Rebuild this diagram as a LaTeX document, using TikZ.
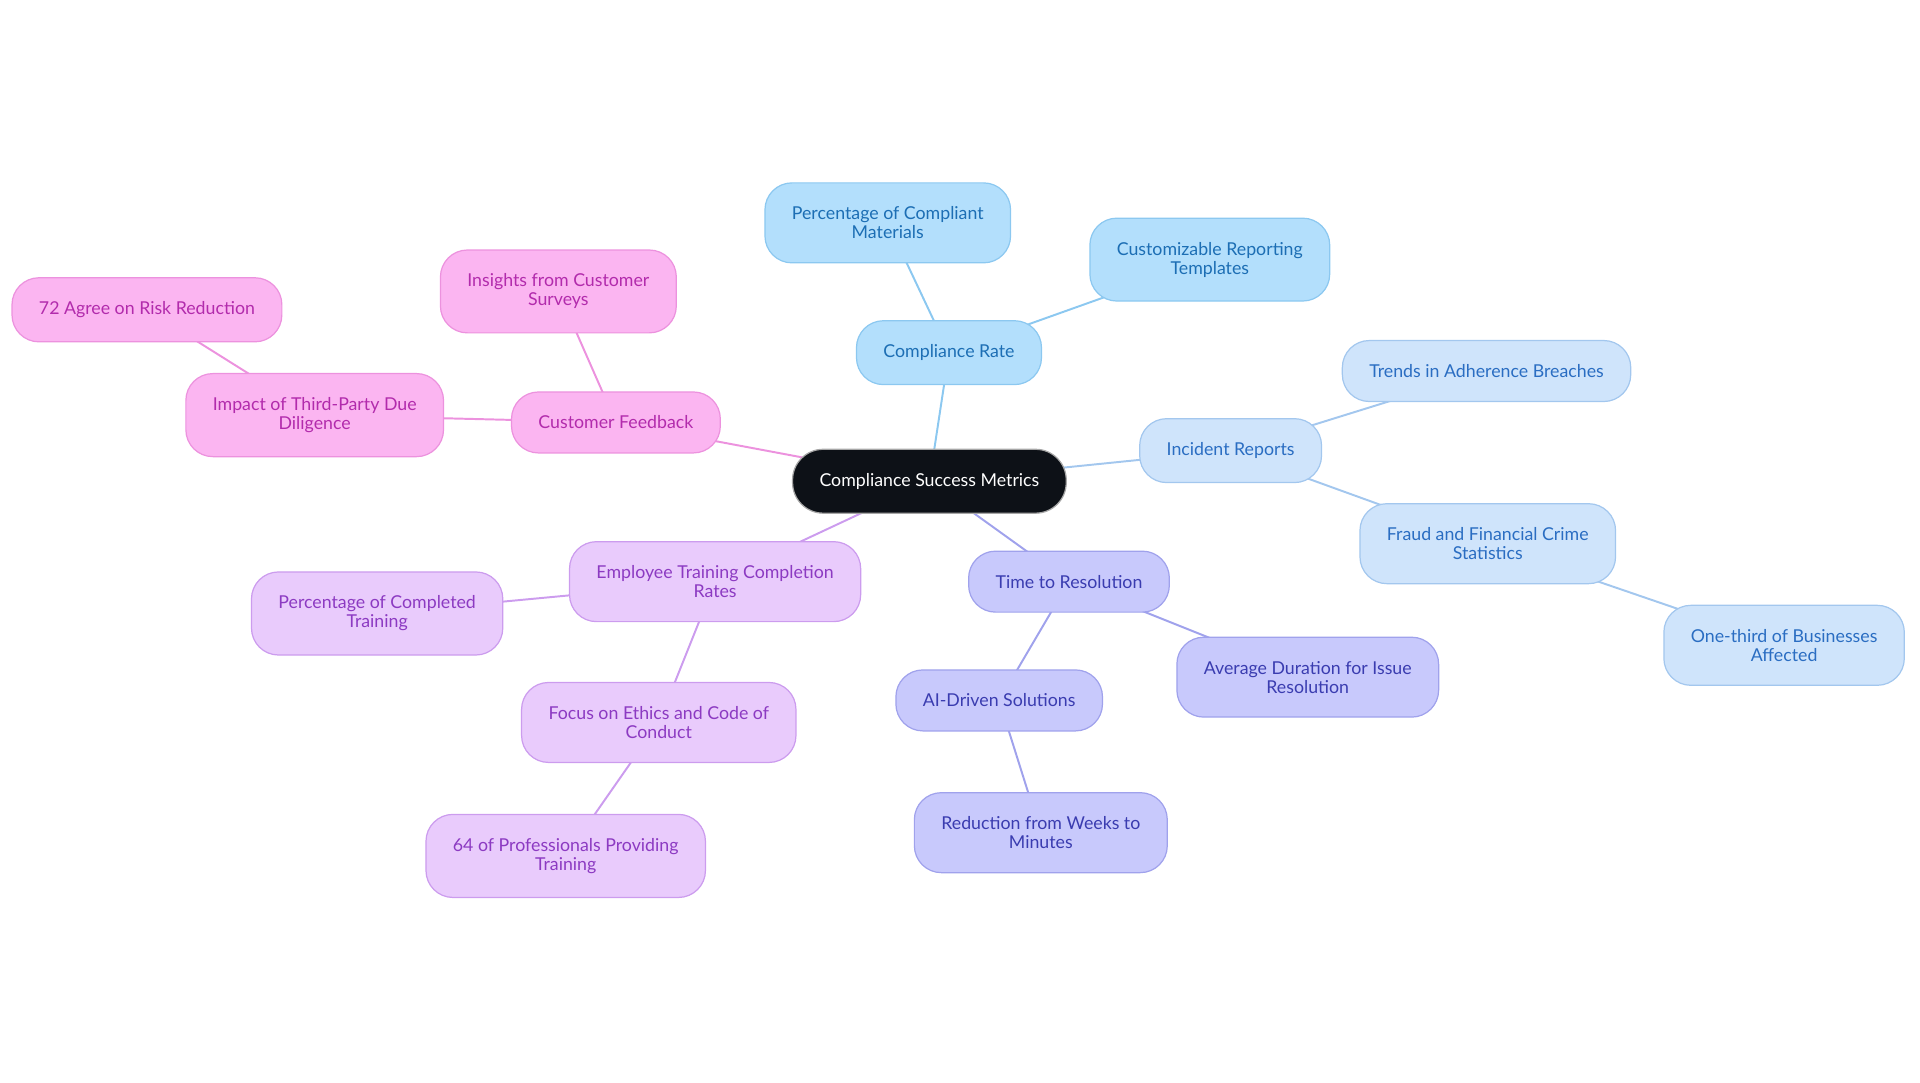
\documentclass[tikz,border=0pt]{standalone}
\usepackage{fontspec}
\setmainfont{Lato}
\usetikzlibrary{backgrounds}
\definecolor{cenfill}{HTML}{0D1117}
\definecolor{skyfill}{HTML}{B3DFFC}
\definecolor{skyline}{HTML}{8CC8F0}
\definecolor{skytext}{HTML}{1C6EB4}
\definecolor{palefill}{HTML}{CFE4FB}
\definecolor{paleline}{HTML}{A3C7EE}
\definecolor{paletext}{HTML}{2A6DC2}
\definecolor{indfill}{HTML}{C8C9FC}
\definecolor{indline}{HTML}{A0A2EC}
\definecolor{indtext}{HTML}{3A3CB0}
\definecolor{lilfill}{HTML}{E9CBFC}
\definecolor{lilline}{HTML}{CC9CEE}
\definecolor{liltext}{HTML}{8C3AC2}
\definecolor{pinkfill}{HTML}{FBB5F1}
\definecolor{pinkline}{HTML}{EC92DE}
\definecolor{pinktext}{HTML}{B22BAC}
\begin{document}
\begin{tikzpicture}[x=1pt,y=-1pt,
  box/.style={rounded corners=22pt,draw,line width=1pt,align=center,
    inner xsep=22pt,inner ysep=19.5pt,font=\fontsize{14.5}{15.5}\selectfont},
  cenbox/.style={box,fill=cenfill,draw=gray!70,text=white,rounded corners=25pt},
  rate/.style={box,fill=skyfill,draw=skyline,text=skytext},
  incid/.style={box,fill=palefill,draw=paleline,text=paletext},
  reso/.style={box,fill=indfill,draw=indline,text=indtext},
  train/.style={box,fill=lilfill,draw=lilline,text=liltext},
  feed/.style={box,fill=pinkfill,draw=pinkline,text=pinktext},
  link/.style={line width=1.6pt}]
\useasboundingbox (0,0) rectangle (1568,884);

% centre
\node[cenbox] (cen) at (759,393) {Compliance Success Metrics};

% compliance rate
\node[rate] (rate) at (775,288) {Compliance Rate};
\node[rate] (pctmat) at (725,182) {Percentage of Compliant\\Materials};
\node[rate] (templ) at (988,212) {Customizable Reporting\\Templates};

% incident reports
\node[incid] (incid) at (1005,368) {Incident Reports};
\node[incid] (trends) at (1214,303) {Trends in Adherence Breaches};
\node[incid] (fraud) at (1215,444) {Fraud and Financial Crime\\Statistics};
\node[incid] (third) at (1457,527) {One-third of Businesses\\Affected};

% time to resolution
\node[reso] (time) at (873,475) {Time to Resolution};
\node[reso] (avgdur) at (1068,553) {Average Duration for Issue\\Resolution};
\node[reso] (aidriv) at (816,572) {AI-Driven Solutions};
\node[reso] (weeks) at (850,680) {Reduction from Weeks to\\Minutes};

% employee training
\node[train] (train) at (584,475) {Employee Training Completion\\Rates};
\node[train] (pcttrain) at (308,501) {Percentage of Completed\\Training};
\node[train] (ethics) at (538,590) {Focus on Ethics and Code of\\Conduct};
\node[train] (prof64) at (462,699) {64 of Professionals Providing\\Training};

% customer feedback
\node[feed] (feedb) at (503,345) {Customer Feedback};
\node[feed] (impact) at (257,339) {Impact of Third-Party Due\\Diligence};
\node[feed] (survey) at (456,238) {Insights from Customer\\Surveys};
\node[feed] (agree72) at (120,253) {72 Agree on Risk Reduction};

\begin{scope}[on background layer]
\draw[link,skyline] (cen.center) -- (rate.center);
\draw[link,skyline] (rate.center) -- (pctmat.center);
\draw[link,skyline] (rate.center) -- (templ.center);
\draw[link,paleline] (cen.center) -- (incid.center);
\draw[link,paleline] (incid.center) -- (trends.center);
\draw[link,paleline] (incid.center) -- (fraud.center);
\draw[link,paleline] (fraud.center) -- (third.center);
\draw[link,indline] (cen.center) -- (time.center);
\draw[link,indline] (time.center) -- (avgdur.center);
\draw[link,indline] (time.center) -- (aidriv.center);
\draw[link,indline] (aidriv.center) -- (weeks.center);
\draw[link,lilline] (cen.center) -- (train.center);
\draw[link,lilline] (train.center) -- (pcttrain.center);
\draw[link,lilline] (train.center) -- (ethics.center);
\draw[link,lilline] (ethics.center) -- (prof64.center);
\draw[link,pinkline] (cen.center) -- (feedb.center);
\draw[link,pinkline] (feedb.center) -- (impact.center);
\draw[link,pinkline] (feedb.center) -- (survey.center);
\draw[link,pinkline] (impact.center) -- (agree72.center);
\end{scope}
\end{tikzpicture}
\end{document}
